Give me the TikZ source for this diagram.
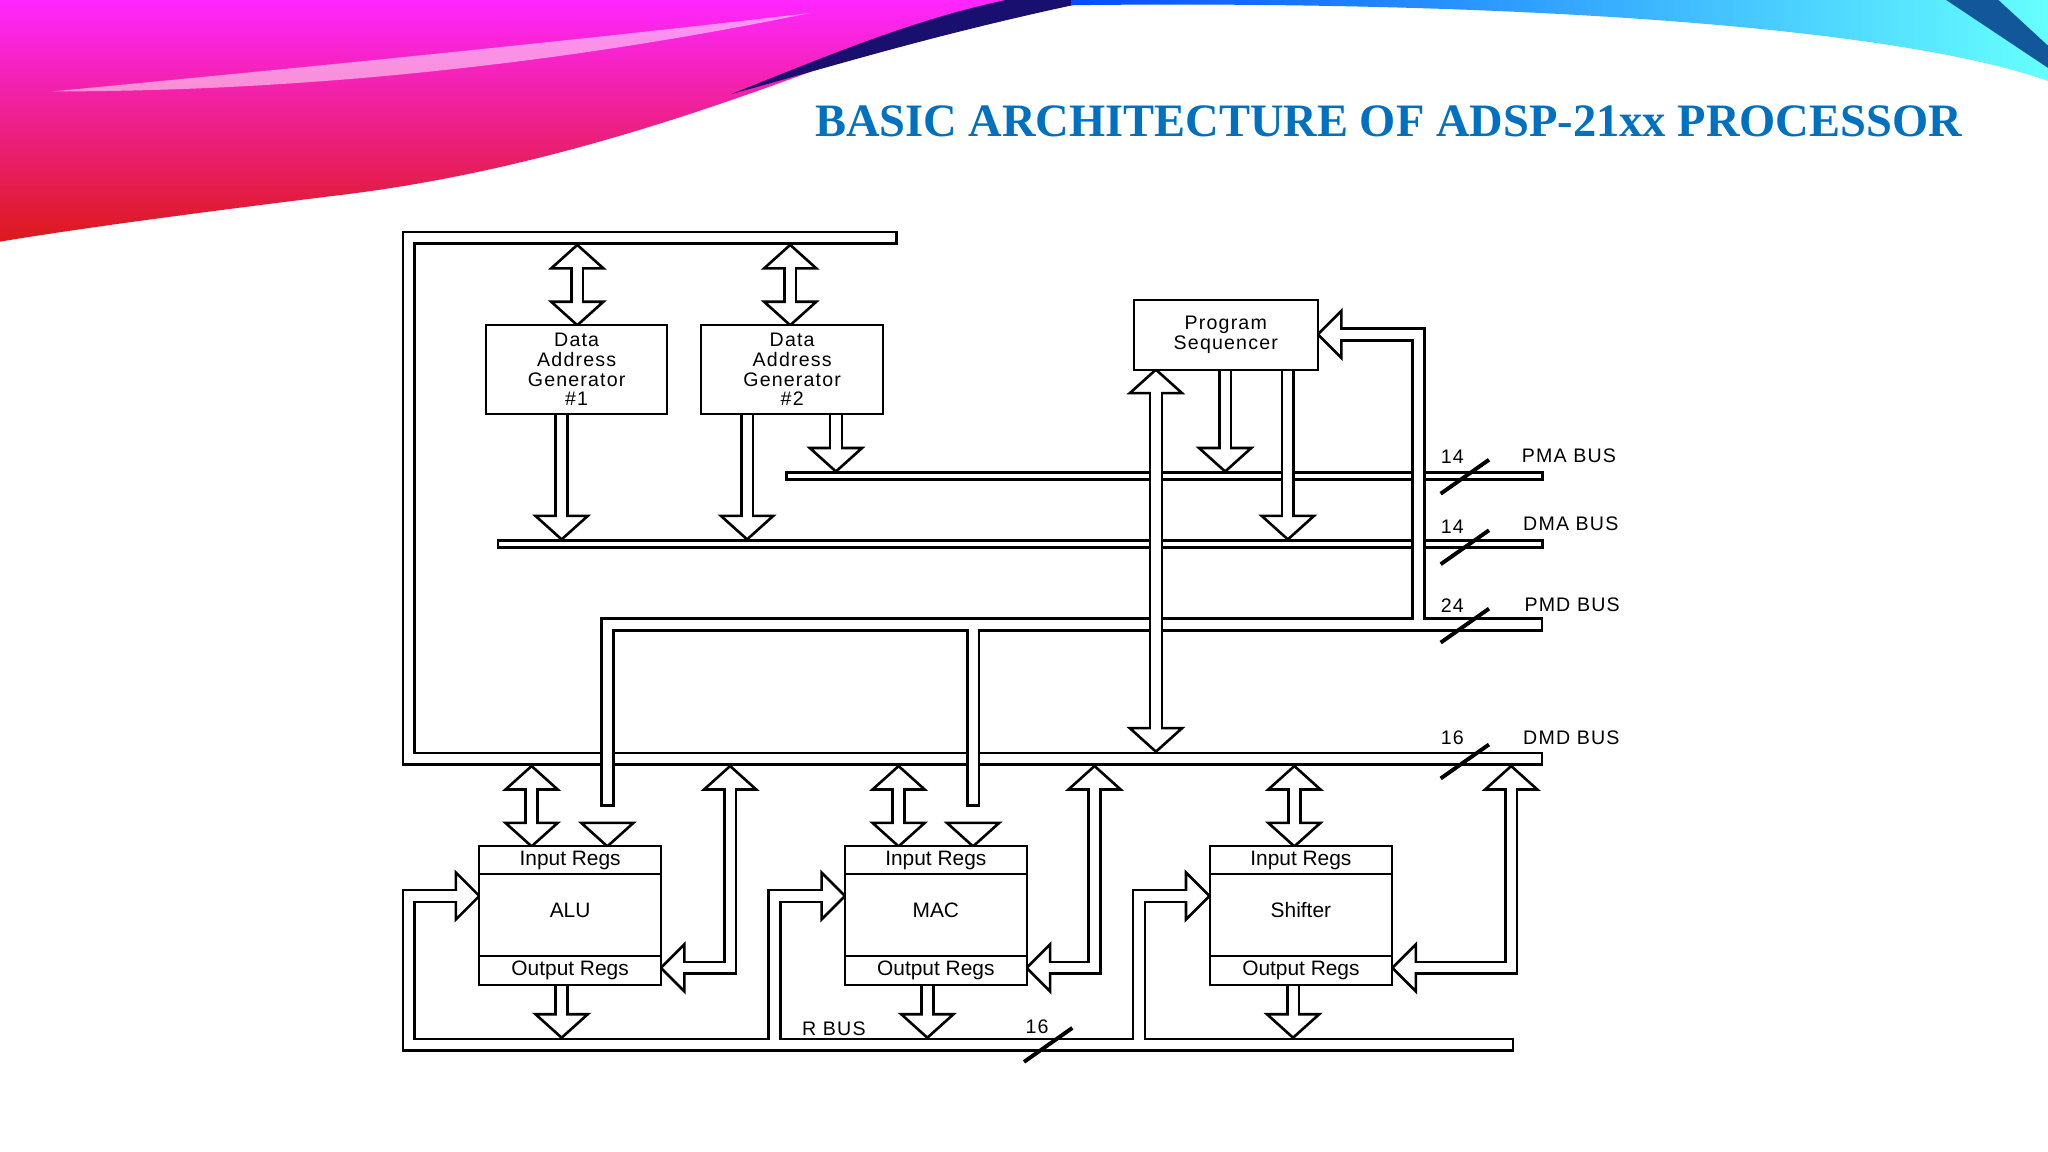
\documentclass[tikz,border=0pt]{standalone}
\usepackage{fontspec}
\setmainfont{Liberation Sans}
\newfontfamily\ttlfont{Liberation Serif}
\newfontfamily\lblfont{Liberation Sans}[LetterSpace=6]
\definecolor{ttlblue}{RGB}{0,112,192}
\definecolor{navyb}{RGB}{25,15,110}
\newcommand\HD[2]{\draw[head] (#1,#2) -- ({#1-20},{#2-18}) -- ({#1+20},{#2-18}) -- cycle;}
\newcommand\HU[2]{\draw[head] (#1,#2) -- ({#1-20},{#2+18}) -- ({#1+20},{#2+18}) -- cycle;}
\newcommand\HL[2]{\draw[head] (#1,#2) -- ({#1+18},{#2-18}) -- ({#1+18},{#2+18}) -- cycle;}
\newcommand\HR[2]{\draw[head] (#1,#2) -- ({#1-18},{#2-18}) -- ({#1-18},{#2+18}) -- cycle;}
\newcommand\grp[2]{\draw[blk] #1; #2 \draw[wht] #1;}
\newcommand\tgrp[1]{\draw[tblk] #1; \draw[twht] #1;}
\begin{document}
\begin{tikzpicture}[x=1pt,y=-1pt,
 blk/.style={line width=11pt,line cap=rect,line join=miter},
 wht/.style={line width=7pt,line cap=rect,line join=miter,white},
 tblk/.style={line width=7.5pt,line cap=rect},
 twht/.style={line width=3.5pt,line cap=rect,white},
 head/.style={fill=white,draw=black,line width=2pt,line join=miter},
 box/.style={draw,line width=1.6pt,fill=white,inner sep=0pt},
 btxt/.style={font=\lblfont\fontsize{15}{15}\selectfont,align=center,inner sep=0pt},
 utxt/.style={font=\fontsize{16}{16}\selectfont,inner sep=0pt},
 blab/.style={font=\lblfont\fontsize{15}{15}\selectfont,inner sep=0pt,anchor=west},
 slash/.style={line width=3pt}]
\useasboundingbox (0,0) rectangle (1568,882);
\fill[white] (0,0) rectangle (1568,882);
% decoration
\shade[top color=magenta!85!white, bottom color=red!85!black!90, shading angle=0]
  (0,0) -- (770,0) .. controls (650,40) and (470,125) .. (255,150) .. controls (150,163) and (60,175) .. (0,185) -- cycle;
\fill[white,opacity=0.5] (40,70) .. controls (250,50) and (450,30) .. (620,10) .. controls (450,45) and (250,70) .. (40,70) -- cycle;
\fill[navyb] (560,72) .. controls (640,40) and (700,15) .. (770,0) -- (840,0) .. controls (720,25) and (640,50) .. (560,72) -- cycle;
\shade[left color=blue!70!cyan, right color=cyan!60!white]
  (820,0) -- (1568,0) -- (1568,62) .. controls (1450,20) and (1150,0) .. (820,4) -- cycle;
\fill[navyb!70!cyan] (1490,0) -- (1530,0) -- (1568,35) -- (1568,52) -- cycle;
% title
\node (title) at (1063,93) {\resizebox{878pt}{!}{\color{ttlblue}\ttlfont\bfseries BASIC ARCHITECTURE OF ADSP-21xx PROCESSOR}};
% thin buses
\tgrp{(605,364.5)--(1178,364.5)}
\tgrp{(384,416.5)--(1178,416.5)}
% DMD loop
\grp{(682,182)--(313,182)--(313,581)--(1176,581)}{}
% PMD bus
\grp{(465,612)--(465,478)--(1176,478) (1086,478)--(1086,256)--(1027,256) (745,478)--(745,612)}{\HD{465}{648}\HD{745}{648}\HL{1009}{256}}
% R bus
\grp{(349,686)--(313,686)--(313,800)--(1154,800) (629,686)--(593,686)--(593,800) (908,686)--(872,686)--(872,800)}{\HR{367}{686}\HR{647}{686}\HR{926}{686}}
% DAG arrows
\grp{(442,205)--(442,231)}{\HU{442}{187.5}\HD{442}{249}}
\grp{(605,205)--(605,231)}{\HU{605}{187.5}\HD{605}{249}}
\grp{(430,317)--(430,395)}{\HD{430}{413}}
\grp{(572,317)--(572,395)}{\HD{572}{413}}
\grp{(640,317)--(640,343)}{\HD{640}{361}}
% PS arrows
\grp{(938,283)--(938,343)}{\HD{938}{361}}
\grp{(986,283)--(986,395)}{\HD{986}{413}}
\grp{(885,301)--(885,557)}{\HU{885}{283}\HD{885}{575.5}}
% unit arrows
\grp{(407,604)--(407,630)}{\HU{407}{586.5}\HD{407}{648}}
\grp{(688,604)--(688,630)}{\HU{688}{586.5}\HD{688}{648}}
\grp{(991,604)--(991,630)}{\HU{991}{586.5}\HD{991}{648}}
\grp{(559,604)--(559,741)--(524,741)}{\HU{559}{586.5}\HL{506}{741}}
\grp{(838,604)--(838,741)--(804,741)}{\HU{838}{586.5}\HL{786}{741}}
\grp{(1157,604)--(1157,741)--(1084,741)}{\HU{1157}{586.5}\HL{1066}{741}}
\grp{(430,754)--(430,777)}{\HD{430}{794.5}}
\grp{(710,754)--(710,777)}{\HD{710}{794.5}}
\grp{(990,754)--(990,777)}{\HD{990}{794.5}}
% boxes
\node[box,minimum width=139pt,minimum height=68pt] (dag1) at (441.5,283) {};
\node[btxt] at (dag1) {Data\\Address\\Generator\\\#1};
\node[box,minimum width=139pt,minimum height=68pt] (dag2) at (606.5,283) {};
\node[btxt] at (dag2) {Data\\Address\\Generator\\\#2};
\node[box,minimum width=141pt,minimum height=53pt] (ps) at (938.5,256.5) {};
\node[btxt] at (ps) {Program\\Sequencer};
\foreach \n/\cx/\t in {alu/436.5/ALU, mac/716.5/MAC, sh/996/Shifter}{
  \node[box,minimum width=139pt,minimum height=106pt] (\n) at (\cx,701) {};
  \draw[line width=1.6pt] ({\cx-69.5},669) -- ({\cx+69.5},669);
  \draw[line width=1.6pt] ({\cx-69.5},732) -- ({\cx+69.5},732);
  \node[utxt] (\n in) at (\cx,659) {Input Regs};
  \node[utxt] (\n t) at (\cx,697) {\t};
  \node[utxt] (\n out) at (\cx,743) {Output Regs};
}
% bus labels
\draw[slash] (1103,378) -- (1140,352);
\node[blab] (n1) at (1103,350) {14};
\node[blab] (pma) at (1165,349) {PMA BUS};
\draw[slash] (1103,432) -- (1140,406);
\node[blab] (n2) at (1103,403) {14};
\node[blab] (dma) at (1166,401) {DMA BUS};
\draw[slash] (1103,492) -- (1140,466);
\node[blab] (n3) at (1103,464) {24};
\node[blab] (pmd) at (1167,463) {PMD BUS};
\draw[slash] (1103,596) -- (1140,570);
\node[blab] (n4) at (1103,565) {16};
\node[blab] (dmd) at (1166,565) {DMD BUS};
\draw[slash] (784,813) -- (821,787);
\node[blab] (n5) at (785,786) {16};
\node[blab] (rbus) at (614,788) {R BUS};
\end{tikzpicture}
\end{document}
